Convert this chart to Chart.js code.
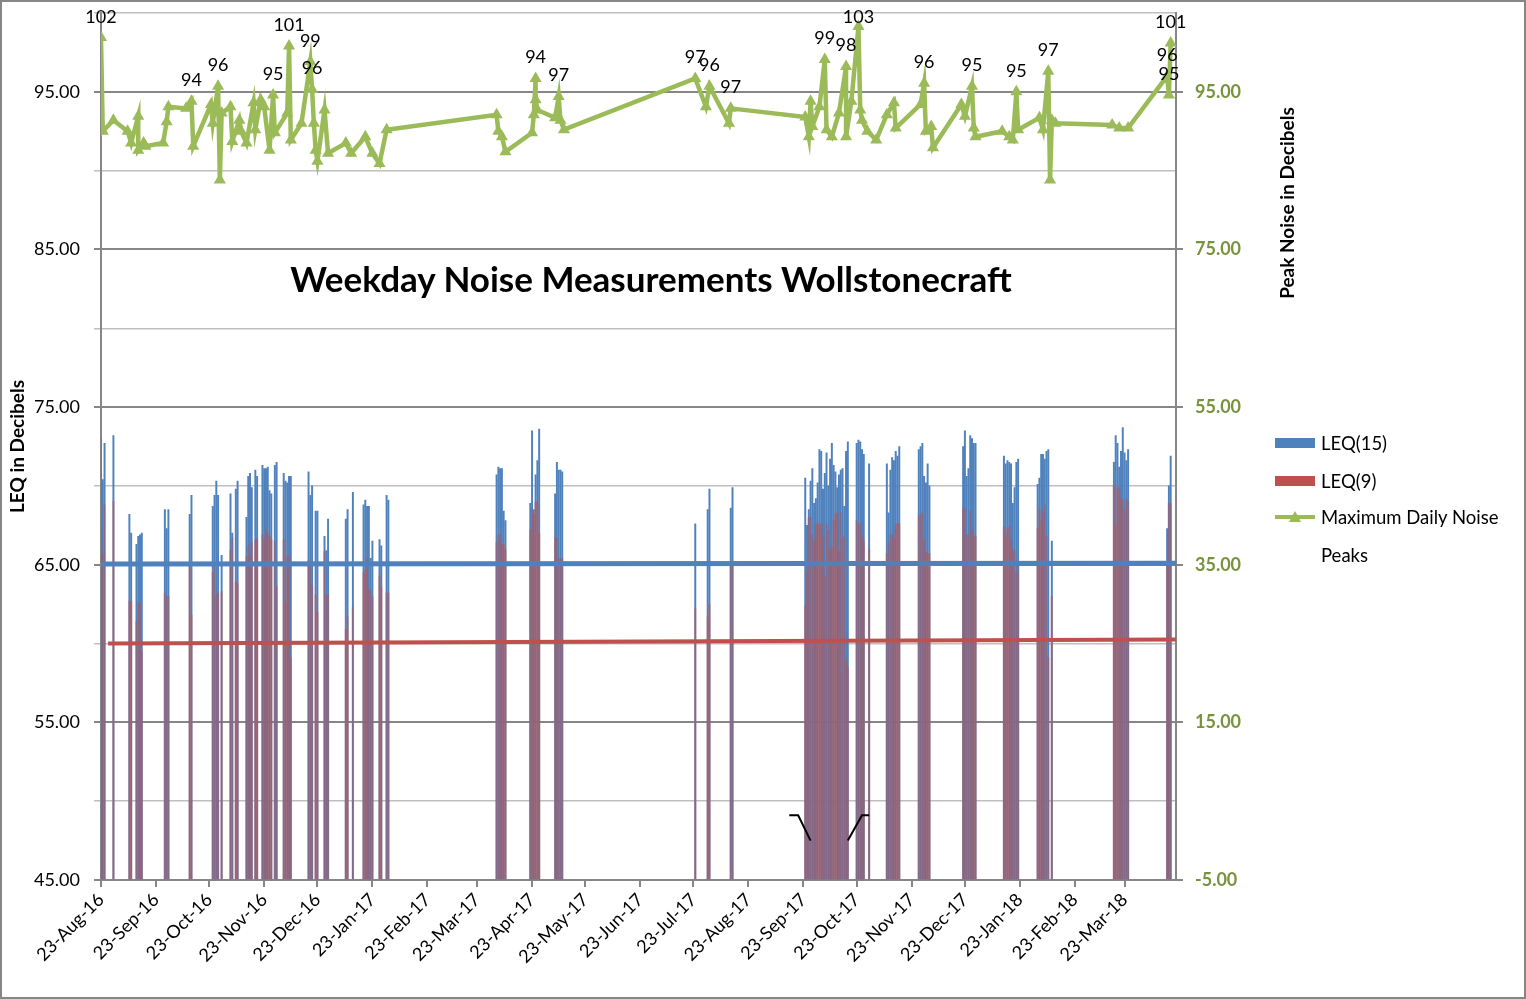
<!DOCTYPE html>
<html>
<head>
<meta charset="utf-8">
<title>Weekday Noise Measurements Wollstonecraft</title>
<script src="https://cdn.jsdelivr.net/npm/chart.js@4.4.1/dist/chart.umd.min.js"></script>
<style>
    body { margin: 0; background: #fff; }
    #wrap { position: relative; width: 1526px; height: 999px; font-family: Lato, "Open Sans", sans-serif; color: #000; }
    #frame { position: absolute; left: 0; top: 0; width: 1526px; height: 999px; box-sizing: border-box; border: 2px solid #868686; pointer-events: none; }
    #title { position: absolute; left: 0; top: 257px; width: 1302px; text-align: center; font-size: 35px; line-height: 42px; font-weight: bold; }
    #rightTitle { position: absolute; left: 1137px; top: 190px; width: 300px; height: 26px; line-height: 26px; text-align: center; font-size: 19px; font-weight: bold; transform: rotate(-90deg); }
    .lgText { position: absolute; left: 1321px; font-size: 18.5px; line-height: 24px; }
    .lgBox { position: absolute; left: 1275px; width: 40px; height: 10px; }
    #lgLine { position: absolute; left: 1275px; top: 515px; width: 40px; height: 4px; background: #9BBB59; }
    #lgTri { position: absolute; left: 1289px; top: 511px; width: 0; height: 0; border-left: 6px solid transparent; border-right: 6px solid transparent; border-bottom: 11px solid #9BBB59; }
</style>
</head>
<body>
<div id="wrap">
    <canvas id="noiseChart" width="1526" height="999"></canvas>
    <div id="title">Weekday Noise Measurements Wollstonecraft</div>
    <div id="rightTitle">Peak Noise in Decibels</div>
    <div class="lgBox" style="top:438px;background:#4F81BD"></div>
    <div class="lgText" style="top:431px">LEQ(15)</div>
    <div class="lgBox" style="top:476px;background:#C0504D"></div>
    <div class="lgText" style="top:469px">LEQ(9)</div>
    <div id="lgLine"></div>
    <div id="lgTri"></div>
    <div class="lgText" style="top:505px">Maximum Daily Noise</div>
    <div class="lgText" style="top:543px">Peaks</div>
    <div id="frame"></div>
</div>
<script>
// --------------------------------- Data ---------------------------------
// x values are days counted from 23-Aug-16
const START = Date.UTC(2016, 7, 23);
const MONTHS = ["Jan", "Feb", "Mar", "Apr", "May", "Jun", "Jul", "Aug", "Sep", "Oct", "Nov", "Dec"];

const xTickLabels = [
    "23-Aug-16", "23-Sep-16", "23-Oct-16", "23-Nov-16", "23-Dec-16", "23-Jan-17", "23-Feb-17",
    "23-Mar-17", "23-Apr-17", "23-May-17", "23-Jun-17", "23-Jul-17", "23-Aug-17", "23-Sep-17",
    "23-Oct-17", "23-Nov-17", "23-Dec-17", "23-Jan-18", "23-Feb-18", "23-Mar-18"
];
const xMaxDay = 606; // about 20-Apr-18

const leqAxisTicks = [45, 50, 55, 60, 65, 70, 75, 80, 85, 90, 95, 100];
const peakAxisTicks = [-5, 15, 35, 55, 75, 95];

// LEQ bars (one entry per measured weekday)
const leqDays = [0, 1, 2, 7, 16, 17, 20, 21, 22, 23, 36, 37, 38, 50, 51, 63, 64, 65, 66, 68, 73, 74, 76, 77,
    82, 83, 84, 85, 87, 88, 91, 92, 93, 94, 95, 96, 98, 99, 103, 104, 105, 106, 107, 117, 118, 119, 121, 122,
    126, 127, 128, 138, 139, 142, 148, 149, 150, 151, 152, 153, 157, 158, 161, 162,
    223, 224, 225, 226, 227, 228, 242, 243, 244, 245, 246, 247, 256, 257, 258, 259, 260,
    335, 342, 343, 355, 356,
    397, 398, 399, 400, 401, 402, 403, 404, 405, 406, 407, 408, 409, 410, 411, 412, 413, 414, 415, 416, 417, 418, 419, 420, 421,
    426, 427, 428, 429, 430, 433, 443, 444, 445, 446, 447, 448, 449, 450,
    461, 462, 463, 464, 465, 466, 467, 486, 487, 488, 489, 490, 491, 492, 493,
    509, 510, 511, 512, 513, 514, 515, 516, 517, 528, 529, 530, 531, 532, 533, 534, 536,
    571, 572, 573, 574, 575, 576, 577, 578, 579, 601, 602, 603];
const leq15 = [73.0, 70.4, 72.7, 73.2, 68.2, 67.0, 66.3, 66.8, 66.9, 67.0, 68.5, 67.3, 68.5, 68.2, 69.4,
    68.7, 69.4, 70.3, 69.4, 65.6, 69.5, 67.0, 69.8, 70.3, 68.0, 70.6, 70.8, 69.9, 71.0, 70.6,
    71.3, 71.1, 71.1, 71.2, 69.7, 69.5, 71.3, 71.5, 70.8, 70.3, 70.2, 70.6, 70.6, 70.9, 69.4, 70.0, 68.4, 68.4,
    66.8, 65.9, 67.9, 67.9, 68.5, 69.6, 68.8, 69.1, 68.7, 68.7, 65.4, 66.5, 66.6, 66.2, 69.4, 69.1,
    70.7, 71.2, 71.1, 71.1, 68.4, 67.8, 68.9, 73.5, 68.5, 70.7, 71.6, 73.6, 69.5, 71.5, 71.0, 71.0, 70.9,
    67.6, 68.5, 69.8, 68.6, 69.9,
    70.5, 67.5, 68.5, 70.3, 71.1, 68.9, 69.2, 70.2, 72.3, 72.2, 69.8, 70.8, 72.1, 70.0, 71.7, 72.7, 71.3, 70.9, 69.9, 70.7, 71.0, 71.1, 68.7, 72.2, 72.8,
    72.7, 72.9, 72.8, 72.3, 72.0, 71.4, 71.4, 68.3, 71.0, 71.8, 71.6, 72.2, 71.9, 72.5,
    72.3, 72.5, 72.7, 70.6, 70.2, 71.4, 70.0, 72.5, 73.5, 70.6, 71.1, 73.2, 73.0, 72.7, 72.7,
    71.9, 71.4, 71.6, 71.5, 71.4, 68.9, 69.9, 71.5, 71.7, 70.1, 70.5, 72.0, 72.0, 71.7, 72.2, 72.3, 66.5,
    71.5, 73.2, 72.7, 71.2, 72.2, 73.7, 72.1, 71.6, 72.3, 67.3, 70.0, 71.9];
const leq9 = [67.2, 65.7, 68.8, 69.0, 62.7, 62.7, 61.4, 62.6, 62.6, 59.5, 63.2, 63.0, 63.0, 64.9, 61.8,
    64.5, 64.9, 63.1, 63.2, 63.3, 65.9, 66.7, 63.9, 63.8, 65.5, 66.2, 65.5, 66.4, 66.6, 66.6,
    66.9, 66.6, 67.2, 67.0, 66.8, 66.6, 66.5, 63.6, 66.6, 62.6, 65.5, 65.5, 59.1, 65.3, 64.9, 63.7, 63.1, 62.0,
    65.8, 63.1, 63.1, 60.9, 61.7, 62.3, 64.5, 64.7, 65.4, 63.4, 63.4, 63.0, 64.3, 63.6, 63.2, 63.2,
    66.4, 66.9, 66.9, 66.3, 66.3, 66.0, 67.2, 68.5, 68.2, 69.0, 69.0, 67.0, 66.7, 66.7, 65.4, 65.4, 65.4,
    62.2, 61.7, 62.5, 64.9, 64.9,
    62.4, 64.6, 68.0, 68.0, 66.9, 66.5, 67.6, 67.6, 67.6, 67.6, 66.8, 64.3, 67.6, 67.2, 66.0, 66.1, 67.8, 68.2, 68.3, 65.8, 68.3, 66.7, 66.8, 59.0, 58.5,
    67.8, 67.6, 67.6, 66.8, 66.5, 66.0, 65.7, 66.4, 66.9, 66.9, 66.7, 67.6, 67.6, 67.6,
    68.1, 68.2, 68.3, 66.6, 65.8, 65.7, 65.7, 68.6, 68.5, 66.9, 66.9, 68.4, 67.2, 66.8, 66.8,
    67.4, 66.9, 67.3, 67.4, 66.5, 66.0, 65.9, 64.5, 65.0, 67.3, 68.5, 67.8, 68.4, 68.8, 66.8, 59.1, 63.0,
    70.0, 67.5, 69.8, 69.9, 69.2, 69.1, 68.5, 69.2, 69.0, 64.9, 68.9, 68.9];

// Excel linear trendlines (end points)
const leq15TrendDays = [0, 606];
const leq15Trend = [65.05, 65.1];
const leq9TrendDays = [4, 606];
const leq9Trend = [60.0, 60.25];

// Maximum daily noise peaks (right axis), in the order the line joins them
const peakDays = [0, 1, 7, 15, 17, 21, 21, 24, 25, 35, 37, 38, 48, 51, 52, 62, 63, 66, 67, 68,
    73, 74, 78, 79, 82, 86, 87, 90, 92, 95, 97, 98, 105, 106, 107, 113, 118, 119, 120, 121,
    122, 126, 128, 138, 141, 149, 153, 157, 161,
    223, 224, 226, 228, 243, 244, 245, 245, 246, 256, 258, 259, 261, 335, 341, 343, 354, 355,
    397, 399, 400, 401, 405, 408, 409, 412, 416, 420, 420, 423, 427, 428, 429, 432, 437, 443, 447, 448,
    462, 464, 465, 468, 469, 485, 487, 491, 492, 493, 508, 512, 514, 516, 517, 529, 531, 534, 535, 536,
    538, 570, 574, 579, 601, 602, 603];
const peakValues = [101.9, 90.0, 91.4, 90.0, 88.5, 91.9, 87.6, 88.5, 88.1, 88.5, 91.2, 93.1, 92.9, 93.8, 88.1, 93.4, 91.0, 95.7, 83.8, 92.3,
    93.1, 88.7, 91.4, 90.0, 88.5, 93.6, 90.2, 94.0, 93.1, 87.6, 94.6, 89.8, 92.3, 100.8, 88.9, 91.0, 98.8, 95.3, 91.0, 87.6,
    86.2, 92.7, 87.2, 88.5, 87.2, 89.3, 87.2, 85.9, 90.2,
    92.1, 90.0, 89.3, 87.4, 89.8, 92.1, 96.7, 94.0, 92.7, 91.7, 94.4, 91.4, 90.2, 96.7, 93.1, 95.7, 91.0, 92.9,
    91.8, 89.3, 93.8, 90.6, 93.1, 99.1, 90.2, 89.3, 92.3, 98.2, 89.3, 93.8, 103.3, 92.7, 91.4, 90.0, 88.9, 92.1, 93.6, 90.4,
    93.4, 96.1, 90.0, 90.6, 87.9, 93.4, 91.9, 95.7, 90.4, 89.3, 90.0, 89.3, 88.9, 95.0, 90.2, 91.7, 90.2, 97.6, 83.8, 91.4,
    91.0, 90.8, 90.4, 90.4, 97.0, 94.6, 101.2];
// data labels shown on some of the peak points (point index, text)
const peakLabelIndex = [0, 13, 17, 30, 33, 36, 37, 55, 59, 62, 64, 66, 72, 76, 79, 88, 94, 100, 104, 111, 112, 113];
const peakLabelText = ["102", "94", "96", "95", "101", "99", "96", "94", "97", "97", "96", "97", "99", "98", "103", "96", "95", "95", "97", "96", "95", "101"];

// the two little black callout strokes near the bottom (day, LEQ)
const calloutLeft = [[388, 49.1], [393, 49.1], [400, 47.5]];
const calloutRight = [[421, 47.5], [429, 49.1], [433, 49.1]];

// --------------------------------- Helpers ---------------------------------
function dayOfLabel(label) {
    const parts = label.split("-");
    return (Date.UTC(2000 + Number(parts[2]), MONTHS.indexOf(parts[1]), Number(parts[0])) - START) / 86400000;
}
const xTickDays = xTickLabels.map(dayOfLabel);

function toPoints(xs, ys) {
    return xs.map((x, i) => ({ x: x, y: ys[i] }));
}

// vertical axes: fixed width and no extra label padding, so the plot box matches the picture
function fixVertical(width) {
    return (s) => {
        s.width = width;
        s.paddingTop = 0;
        s.paddingBottom = 0;
    };
}

// Draw the peak data labels and the callout strokes
const extrasPlugin = {
    id: "extras",
    afterDatasetsDraw(chart) {
        const ctx = chart.ctx;
        const xs = chart.scales.x;
        const ys = chart.scales.y;
        ctx.save();
        ctx.strokeStyle = "#000";
        ctx.lineWidth = 2;
        [calloutLeft, calloutRight].forEach((pts) => {
            ctx.beginPath();
            pts.forEach((p, i) => {
                const px = xs.getPixelForValue(p[0]);
                const py = ys.getPixelForValue(p[1]);
                if (i === 0) ctx.moveTo(px, py);
                else ctx.lineTo(px, py);
            });
            ctx.stroke();
        });

        // labels sit above their point but stay inside the frame, as Excel keeps them
        const meta = chart.getDatasetMeta(0);
        ctx.font = "18px Lato";
        ctx.fillStyle = "#000";
        ctx.textAlign = "center";
        ctx.textBaseline = "middle";
        peakLabelIndex.forEach((idx, i) => {
            const pt = meta.data[idx];
            ctx.fillText(peakLabelText[i], pt.x, Math.max(pt.y - 21, 17));
        });
        ctx.restore();
    },
};

Chart.defaults.font.family = "Lato";
Chart.defaults.color = "#000";

new Chart(document.getElementById("noiseChart"), {
    type: "bar",
    data: {
        datasets: [
            {
                type: "line",
                label: "Maximum Daily Noise Peaks",
                yAxisID: "y2",
                data: toPoints(peakDays, peakValues),
                borderColor: "#9BBB59",
                backgroundColor: "#9BBB59",
                borderWidth: 4.5,
                pointStyle: "triangle",
                pointRadius: 7,
                pointBorderWidth: 0,
                tension: 0,
                order: 0,
            },
            {
                type: "line",
                label: "LEQ(15) trend",
                yAxisID: "y",
                data: toPoints(leq15TrendDays, leq15Trend),
                borderColor: "#4F81BD",
                borderWidth: 5,
                pointRadius: 0,
                order: 1,
            },
            {
                type: "line",
                label: "LEQ(9) trend",
                yAxisID: "y",
                data: toPoints(leq9TrendDays, leq9Trend),
                borderColor: "#C0504D",
                borderWidth: 4,
                pointRadius: 0,
                order: 1,
            },
            {
                // drawn over the blue bars, half see-through so the overlap shows purple
                label: "LEQ(9)",
                yAxisID: "y",
                data: toPoints(leqDays, leq9),
                backgroundColor: "rgba(192,80,77,0.47)",
                barThickness: 1.6,
                grouped: false,
                base: 45,
                order: 2,
            },
            {
                label: "LEQ(15)",
                yAxisID: "y",
                data: toPoints(leqDays, leq15),
                backgroundColor: "#4F81BD",
                barThickness: 1.3,
                grouped: false,
                base: 45,
                order: 3,
            },
        ],
    },
    options: {
        responsive: false,
        animation: false,
        events: [],
        layout: { padding: { left: 0, right: 270, top: 13, bottom: 0 } },
        plugins: {
            legend: { display: false },
            tooltip: { enabled: false },
        },
        scales: {
            x: {
                type: "linear",
                min: 0,
                max: xMaxDay,
                offset: false,
                afterBuildTicks: (s) => { s.ticks = xTickDays.map((v) => ({ value: v })); },
                afterFit: (s) => { s.height = 119; },
                ticks: {
                    autoSkip: false,
                    minRotation: 45,
                    maxRotation: 45,
                    padding: 2,
                    font: { size: 18 },
                    color: "#000",
                    callback: (v, i) => xTickLabels[i],
                },
                grid: { drawOnChartArea: false, offset: false, tickLength: 7, color: "#868686", lineWidth: 2 },
                border: { color: "#868686", width: 2 },
            },
            y: {
                position: "left",
                min: 45,
                max: 100,
                afterBuildTicks: (s) => { s.ticks = leqAxisTicks.map((v) => ({ value: v })); },
                afterFit: fixVertical(101),
                ticks: {
                    padding: 14,
                    font: { size: 18 },
                    color: "#000",
                    callback: (v) => ((v - 45) % 10 === 0 ? v.toFixed(2) : ""),
                },
                grid: {
                    tickLength: 7,
                    color: (c) => (c.tick && (c.tick.value - 45) % 10 === 0 ? "#868686" : "#BFBFBF"),
                    lineWidth: (c) => (c.tick && (c.tick.value - 45) % 10 === 0 ? 2 : 1.5),
                },
                border: { color: "#868686", width: 2 },
                title: {
                    display: true,
                    text: "LEQ in Decibels",
                    font: { size: 19, weight: "bold" },
                    color: "#000",
                    padding: { top: 6, bottom: 0 },
                },
            },
            y2: {
                position: "right",
                min: -5,
                max: 105,
                afterBuildTicks: (s) => { s.ticks = peakAxisTicks.map((v) => ({ value: v })); },
                afterFit: fixVertical(80),
                ticks: {
                    padding: 12,
                    font: { size: 18, weight: "bold" },
                    color: "#77933C",
                    callback: (v) => v.toFixed(2),
                },
                grid: { drawOnChartArea: false, tickLength: 7, color: "#868686", lineWidth: 2 },
                border: { color: "#868686", width: 2 },
            },
        },
    },
    plugins: [extrasPlugin],
});
</script>
</body>
</html>
